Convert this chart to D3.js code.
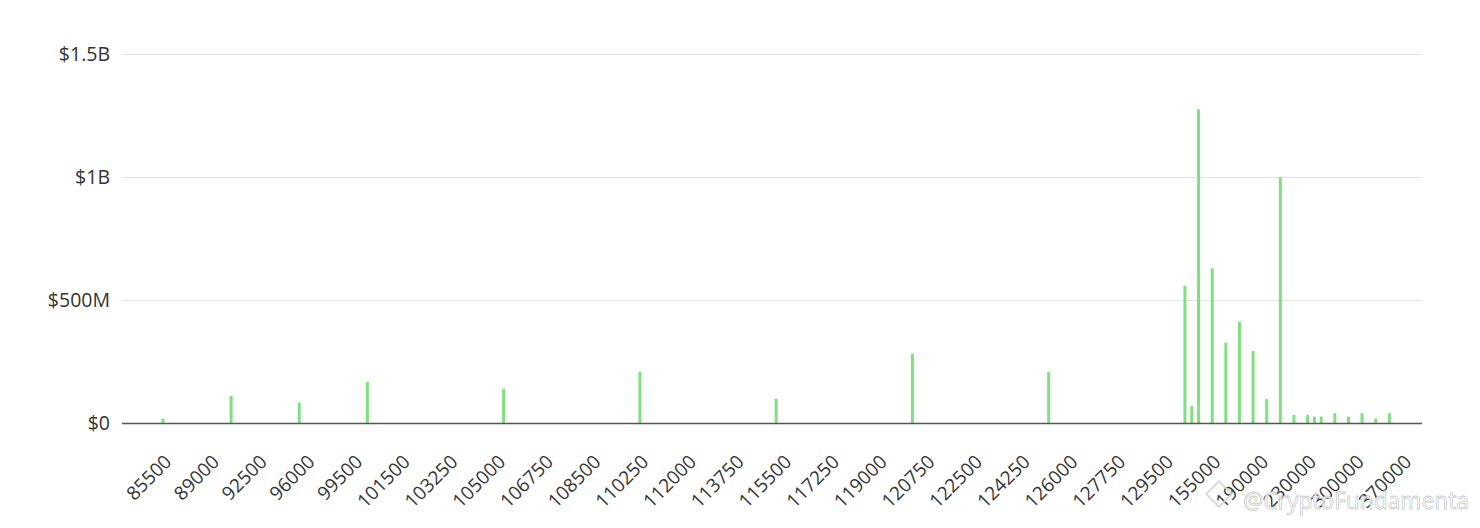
<!DOCTYPE html>
<html>
<head>
<meta charset="utf-8">
<script src="https://cdn.jsdelivr.net/npm/d3@7"></script>
<style>
  html, body { margin: 0; padding: 0; background: #ffffff; }
  svg { display: block; }
</style>
</head>
<body>
<svg id="chart" width="1480" height="528"></svg>
<script>
// ---- Data ----
// Strike categories on the x axis (band scale)
const categories = [
  82000, 82500, 83000, 83500, 84000, 84500, 85000, 85500, 86000, 86500,
  87000, 87500, 88000, 88500, 89000, 89500, 90000, 90500, 91000, 91500,
  92000, 92500, 93000, 93500, 94000, 94500, 95000, 95500, 96000, 96500,
  97000, 97500, 98000, 98500, 99000, 99500,
  100000, 100250, 100500, 100750, 101000, 101250, 101500, 101750,
  102000, 102250, 102500, 102750, 103000, 103250, 103500, 103750,
  104000, 104250, 104500, 104750, 105000, 105250, 105500, 105750,
  106000, 106250, 106500, 106750, 107000, 107250, 107500, 107750,
  108000, 108250, 108500, 108750, 109000, 109250, 109500, 109750,
  110000, 110250, 110500, 110750, 111000, 111250, 111500, 111750,
  112000, 112250, 112500, 112750, 113000, 113250, 113500, 113750,
  114000, 114250, 114500, 114750, 115000, 115250, 115500, 115750,
  116000, 116250, 116500, 116750, 117000, 117250, 117500, 117750,
  118000, 118250, 118500, 118750, 119000, 119250, 119500, 119750,
  120000, 120250, 120500, 120750, 121000, 121250, 121500, 121750,
  122000, 122250, 122500, 122750, 123000, 123250, 123500, 123750,
  124000, 124250, 124500, 124750, 125000, 125250, 125500, 125750,
  126000, 126250, 126500, 126750, 127000, 127250, 127500, 127750,
  128000, 128250, 128500, 128750, 129000, 129250, 129500, 129750,
  130000, 135000, 140000, 145000, 150000, 155000, 160000, 165000,
  170000, 175000, 180000, 185000, 190000, 195000, 200000, 205000,
  210000, 215000, 220000, 230000, 240000, 250000, 260000, 270000,
  280000, 290000, 300000, 310000, 320000, 330000, 340000, 350000,
  360000, 370000, 380000
];

// Strikes that carry open interest, and their values (USD)
const strikes = [
  85000, 90000, 95000, 100000, 105000, 110000, 115000, 120000, 125000,
  130000, 135000, 140000, 150000, 160000, 170000, 180000, 190000,
  200000, 210000, 220000, 230000, 240000, 260000, 280000, 300000,
  320000, 340000
];
const values = [
  18e6, 110e6, 83e6, 167e6, 139e6, 208e6, 98e6, 281e6, 208e6,
  558e6, 69e6, 1275e6, 629e6, 327e6, 412e6, 293e6, 97e6,
  1000e6, 33e6, 33e6, 26e6, 26e6, 40e6, 26e6, 40e6,
  18e6, 40e6
];

// Axis labels
const xTickLabels = [
  85500, 89000, 92500, 96000, 99500, 101500, 103250, 105000, 106750,
  108500, 110250, 112000, 113750, 115500, 117250, 119000, 120750,
  122500, 124250, 126000, 127750, 129500, 155000, 190000, 230000,
  300000, 370000
];
const yTicks = [0, 500e6, 1000e6, 1500e6];
const yTickLabels = ["$0", "$500M", "$1B", "$1.5B"];

// ---- Layout ----
const svg = d3.select("#chart");
const plotLeft = 122, plotRight = 1422;
const yTop = 54, yBottom = 423;

const x = d3.scaleBand()
  .domain(categories)
  .range([118.7, 1420])
  .paddingInner(0)
  .paddingOuter(0);

const y = d3.scaleLinear()
  .domain([0, 1.5e9])
  .range([yBottom, yTop]);

const font = "'Open Sans', 'Noto Sans', sans-serif";

// Gridlines
svg.append("g")
  .selectAll("line")
  .data(yTicks.filter(d => d > 0))
  .join("line")
  .attr("x1", plotLeft)
  .attr("x2", plotRight)
  .attr("y1", d => y(d) + 0.5)
  .attr("y2", d => y(d) + 0.5)
  .attr("stroke", "#e4e4e4")
  .attr("stroke-width", 1);

// Y labels
svg.append("g")
  .selectAll("text")
  .data(yTicks)
  .join("text")
  .attr("x", 110)
  .attr("y", d => y(d))
  .attr("dy", "0.35em")
  .attr("text-anchor", "end")
  .attr("font-family", font)
  .attr("font-size", 19.5)
  .attr("fill", "#333")
  .text((d, i) => yTickLabels[i]);

// Bars
const barW = 3;
svg.append("g")
  .selectAll("rect")
  .data(strikes.map((s, i) => ({ s, v: values[i] })))
  .join("rect")
  .attr("x", d => x(d.s) + x.bandwidth() / 2 - barW / 2)
  .attr("y", d => y(d.v))
  .attr("width", barW)
  .attr("height", d => y(0) - y(d.v))
  .attr("fill", "#7fe07f");

// X axis line
svg.append("line")
  .attr("x1", plotLeft)
  .attr("x2", plotRight)
  .attr("y1", yBottom + 0.5)
  .attr("y2", yBottom + 0.5)
  .attr("stroke", "#555")
  .attr("stroke-width", 1.5);

// X labels
svg.append("g")
  .selectAll("text")
  .data(xTickLabels)
  .join("text")
  .attr("transform", d => `translate(${x(d) + x.bandwidth() / 2 + 3},463) rotate(-45)`)
  .attr("text-anchor", "end")
  .attr("font-family", font)
  .attr("font-size", 19)
  .attr("fill", "#333")
  .text(d => String(d));

// Watermark (logo + handle)
const wm = svg.append("g").attr("opacity", 0.9);
wm.append("rect")
  .attr("x", 1210).attr("y", 485).attr("width", 18).attr("height", 18)
  .attr("transform", "rotate(45,1219,494)")
  .attr("fill", "none").attr("stroke", "#d6d6d6").attr("stroke-width", 2);
wm.append("text")
  .attr("x", 1243)
  .attr("y", 509)
  .attr("font-family", "'Noto Sans', sans-serif")
  .attr("font-size", 23)
  .attr("textLength", 226)
  .attr("lengthAdjust", "spacingAndGlyphs")
  .attr("fill", "#ffffff")
  .attr("stroke", "#c8c8c8")
  .attr("stroke-width", 0.8)
  .text("@CryptoFundamenta");
</script>
</body>
</html>
